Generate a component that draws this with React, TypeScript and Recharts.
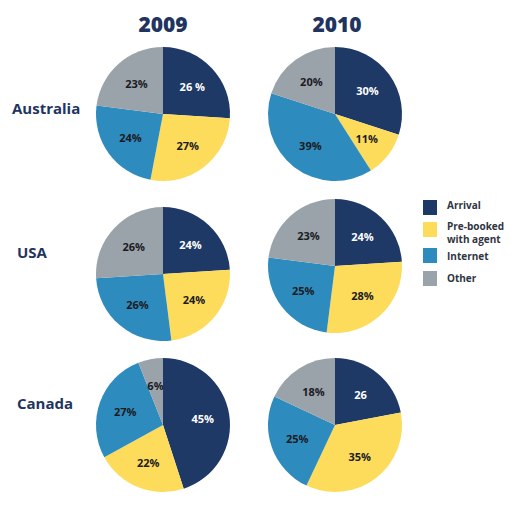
import React from 'react';
import { PieChart, Pie, Cell } from 'recharts';

const categories = ['Arrival', 'Pre-booked with agent', 'Internet', 'Other'];
const years = ['2009', '2010'];
const countries = ['Australia', 'USA', 'Canada'];

// slice sizes as drawn, order: Arrival, Pre-booked, Internet, Other
const australia2009 = [26, 27, 24, 23];
const australia2010 = [30, 11, 39, 20];
const usa2009 = [24, 24, 26, 26];
const usa2010 = [24, 28, 25, 23];
const canada2009 = [45, 22, 27, 6];
const canada2010 = [22, 35, 25, 18];

// printed labels (Canada 2010 Arrival is printed as "26")
const australia2009Labels = ['26 %', '27%', '24%', '23%'];
const australia2010Labels = ['30%', '11%', '39%', '20%'];
const usa2009Labels = ['24%', '24%', '26%', '26%'];
const usa2010Labels = ['24%', '28%', '25%', '23%'];
const canada2009Labels = ['45%', '22%', '27%', '6%'];
const canada2010Labels = ['26', '35%', '25%', '18%'];

const COLORS = ['#1e3966', '#fddc5c', '#2e8bbe', '#9aa2aa'];
const NAVY = '#1f3560';
const FONT = "'Open Sans', 'DejaVu Sans', sans-serif";

const toData = (values: number[], labels: string[]) =>
  values.map((v, i) => ({ name: categories[i], value: v, label: labels[i] }));

const pies = [
  { key: 'au09', data: toData(australia2009, australia2009Labels), cx: 163, cy: 114 },
  { key: 'au10', data: toData(australia2010, australia2010Labels), cx: 335, cy: 114 },
  { key: 'us09', data: toData(usa2009, usa2009Labels), cx: 163, cy: 274 },
  { key: 'us10', data: toData(usa2010, usa2010Labels), cx: 335, cy: 266 },
  { key: 'ca09', data: toData(canada2009, canada2009Labels), cx: 163, cy: 425 },
  { key: 'ca10', data: toData(canada2010, canada2010Labels), cx: 335, cy: 425 },
];

const RADIAN = Math.PI / 180;

const renderLabel = (props: any) => {
  const { cx, cy, midAngle, outerRadius, index, payload } = props;
  const r = outerRadius * 0.6;
  const x = cx + r * Math.cos(-midAngle * RADIAN);
  const y = cy + r * Math.sin(-midAngle * RADIAN);
  return (
    <text
      x={x}
      y={y}
      fill={index === 0 ? '#ffffff' : '#1b1b1f'}
      textAnchor="middle"
      dominantBaseline="central"
      fontFamily={FONT}
      fontWeight={700}
      fontSize={11}
    >
      {payload.label}
    </text>
  );
};

const titleX = [163, 337];
const rowLabels = [
  { x: 12, y: 108 },
  { x: 17, y: 252 },
  { x: 17, y: 403 },
];
const legendRows = [
  { y: 200, textY: 205, lines: ['Arrival'] },
  { y: 222, textY: 226, lines: ['Pre-booked', 'with agent'] },
  { y: 248, textY: 256, lines: ['Internet'] },
  { y: 271, textY: 278, lines: ['Other'] },
];

export default function App() {
  return (
    <div style={{ position: 'absolute', left: 0, top: 0, width: 512, height: 512, background: '#fff', fontFamily: FONT }}>
      <PieChart width={512} height={512} margin={{ top: 0, right: 0, bottom: 0, left: 0 }}>
        {pies.map((p) => (
          <Pie
            key={p.key}
            data={p.data}
            dataKey="value"
            cx={p.cx}
            cy={p.cy}
            outerRadius={67}
            startAngle={90}
            endAngle={-270}
            stroke="none"
            labelLine={false}
            label={renderLabel}
            isAnimationActive={false}
          >
            {p.data.map((_, i) => (
              <Cell key={`c-${i}`} fill={COLORS[i]} />
            ))}
          </Pie>
        ))}
      </PieChart>

      {years.map((y, i) => (
        <div
          key={y}
          style={{
            position: 'absolute', left: titleX[i] - 40, width: 80, top: 9, textAlign: 'center',
            fontSize: 21, fontWeight: 800, color: NAVY, lineHeight: '30px',
          }}
        >
          {y}
        </div>
      ))}

      {countries.map((c, i) => (
        <div
          key={c}
          style={{
            position: 'absolute', left: rowLabels[i].x, top: rowLabels[i].y - 11, lineHeight: '22px',
            fontSize: 15, fontWeight: 700, color: NAVY,
          }}
        >
          {c}
        </div>
      ))}

      {legendRows.map((row, i) => (
        <React.Fragment key={categories[i]}>
          <div style={{ position: 'absolute', left: 423, top: row.y, width: 14, height: 15, background: COLORS[i] }} />
          <div
            style={{
              position: 'absolute', left: 447, top: row.textY - 6.5, fontSize: 10, fontWeight: 700,
              color: '#2f3542', lineHeight: '13px',
            }}
          >
            {row.lines.map((l) => (
              <div key={l}>{l}</div>
            ))}
          </div>
        </React.Fragment>
      ))}
    </div>
  );
}
